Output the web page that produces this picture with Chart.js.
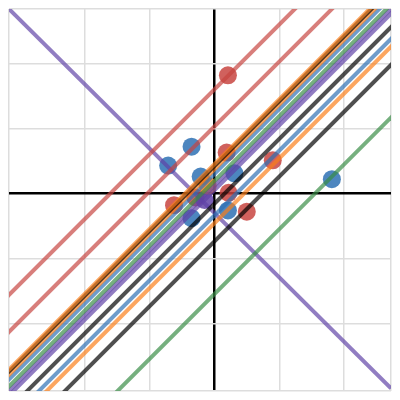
<!DOCTYPE html>
<html><head><script src="https://cdn.jsdelivr.net/npm/chart.js@4"></script>
<style>body{margin:0;background:#fff}</style></head>
<body><canvas id="c" width="400" height="400"></canvas>
<script>
const xRange=[-3.16,2.72], yRange=[-3.04,2.84];
const redPts=[[0.21,1.82],[0.19,0.63],[0.90,0.51],[-0.62,-0.18],[0.22,0.01],[0.50,-0.28],[-0.29,-0.06]];
const bluePts=[[-0.35,0.72],[-0.71,0.43],[-0.21,0.26],[0.31,0.31],[1.81,0.22],[-0.35,-0.38],[0.21,-0.26]];
const orangePts=[[-0.1,0.12]];
const purplePts=[[-0.15,-0.1]];
const lineOffsets=[1.6,1.03,0.45,0.42,0.37,0.30,0.19,0.12,0.05,-0.16,-0.34,-0.46,-0.74,-1.55];
const lineColors=['#c74440','#c74440','#fa7e19','#000000','#fa7e19','#2d70b3','#388c46','#6042a6','#6042a6','#000000','#2d70b3','#fa7e19','#000000','#388c46'];
const negLine=[[-3.16,2.84],[2.72,-3.0]];
const alpha=(c,a)=>c+a;
const ds=[];
lineOffsets.forEach((c,i)=>ds.push({data:[{x:-4,y:-4+c},{x:4,y:4+c}],showLine:true,borderColor:alpha(lineColors[i],'b0'),borderWidth:4,pointRadius:0}));
ds.push({data:negLine.map(p=>({x:p[0],y:p[1]})),showLine:true,borderColor:'#6042a6b0',borderWidth:4,pointRadius:0});
const pts=(a,c)=>({data:a.map(p=>({x:p[0],y:p[1]})),backgroundColor:c+'d8',borderWidth:0,pointRadius:9,showLine:false});
ds.push(pts(orangePts,'#fa7e19'),pts(purplePts,'#6042a6'),pts(redPts,'#c74440'),pts(bluePts,'#2d70b3'));
const ax=r=>({type:'linear',min:r[0],max:r[1],ticks:{display:false,stepSize:1},border:{display:false},
 grid:{color:c=>c.tick.value===0?'#000':'#ddd',lineWidth:c=>c.tick.value===0?2.5:1.5,drawTicks:false}});
new Chart(document.getElementById('c'),{type:'scatter',data:{datasets:ds},
 options:{responsive:false,animation:false,clip:true,layout:{padding:0},plugins:{legend:{display:false},tooltip:{enabled:false}},
 scales:{x:ax(xRange),y:ax(yRange)}}});
</script></body></html>
